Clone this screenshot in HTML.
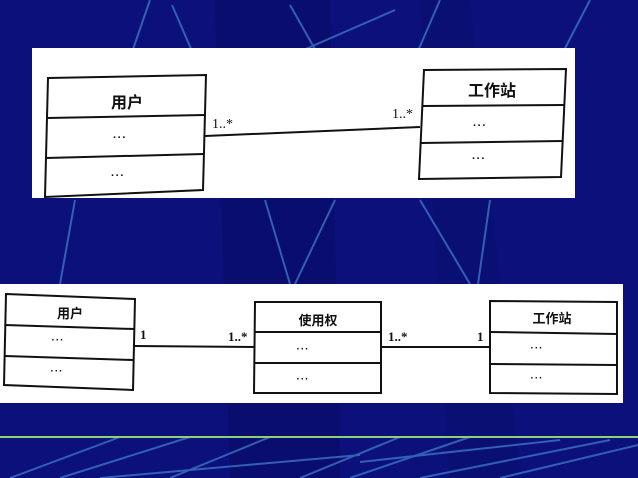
<!DOCTYPE html>
<html><head><meta charset="utf-8"><style>
html,body{margin:0;padding:0;width:638px;height:478px;overflow:hidden;background:#0b107a}
svg{display:block}
text{font-family:"Liberation Serif","Noto Serif CJK SC",serif;fill:#111}
.cj{font-family:"Liberation Sans","Noto Sans CJK SC",sans-serif;font-weight:bold}
.d{font-family:"Liberation Sans",sans-serif;font-weight:bold;letter-spacing:1px}
</style></head><body>
<svg width="638" height="478" viewBox="0 0 638 478" xmlns="http://www.w3.org/2000/svg">
<rect width="638" height="478" fill="#0b107a"/>
<polygon points="215,0 330,0 340,478 230,478" fill="#06095a" opacity="0.35"/>
<polygon points="420,0 470,0 520,478 450,478" fill="#0a0d66" opacity="0.3"/>
<g stroke="#3d74c4" stroke-width="2" opacity="0.8" fill="none">
<line x1="150" y1="0" x2="130" y2="58"/>
<line x1="172" y1="5" x2="195" y2="58"/>
<line x1="290" y1="5" x2="320" y2="58"/>
<line x1="285" y1="58" x2="395" y2="10"/>
<line x1="440" y1="0" x2="415" y2="58"/>
<line x1="590" y1="0" x2="560" y2="58"/>
<line x1="75" y1="200" x2="60" y2="284"/>
<line x1="265" y1="200" x2="290" y2="284"/>
<line x1="335" y1="200" x2="295" y2="284"/>
<line x1="420" y1="200" x2="470" y2="284"/>
<line x1="490" y1="200" x2="478" y2="284"/>
<line x1="10" y1="478" x2="120" y2="437"/>
<line x1="60" y1="478" x2="190" y2="437"/>
<line x1="170" y1="478" x2="270" y2="437"/>
<line x1="100" y1="478" x2="360" y2="455"/>
<line x1="300" y1="478" x2="400" y2="437"/>
<line x1="350" y1="478" x2="470" y2="437"/>
<line x1="360" y1="462" x2="560" y2="440"/>
<line x1="420" y1="478" x2="610" y2="440"/>
<line x1="500" y1="478" x2="638" y2="445"/>
</g>
<line x1="0" y1="437" x2="638" y2="437" stroke="#8fcf7a" stroke-width="2"/>
<rect x="32" y="48" width="543" height="150" fill="#fff"/>
<g stroke="#111" stroke-width="2" fill="none">
<polygon points="48,78 206,75 203,190 45,197"/>
<line x1="47" y1="118" x2="205" y2="115"/>
<line x1="46" y1="158" x2="204" y2="154"/>
<polygon points="424,70 566,69 561,177 419,179"/>
<line x1="423" y1="106" x2="565" y2="105"/>
<line x1="421" y1="143" x2="563" y2="141"/>
<line x1="205" y1="136" x2="420" y2="127"/>
</g>
<text x="127" y="108" class="cj" font-size="16" text-anchor="middle">用户</text>
<text x="120" y="141" class="d" font-size="11" text-anchor="middle">···</text>
<text x="118" y="179" class="d" font-size="11" text-anchor="middle">···</text>
<text x="492" y="96" class="cj" font-size="16" text-anchor="middle">工作站</text>
<text x="480" y="129" class="d" font-size="11" text-anchor="middle">···</text>
<text x="479" y="162" class="d" font-size="11" text-anchor="middle">···</text>
<text x="212" y="128" font-size="14">1..*</text>
<text x="392" y="118" font-size="14">1..*</text>
<rect x="0" y="284" width="623" height="119" fill="#fff"/>
<g stroke="#111" stroke-width="2" fill="none">
<polygon points="6,294 135,299 133,390 4,385"/>
<line x1="5" y1="325" x2="134" y2="329"/>
<line x1="5" y1="356" x2="133" y2="360"/>
<polygon points="255,302 381,302 381,393 254,393"/>
<line x1="255" y1="332" x2="381" y2="332"/>
<line x1="255" y1="363" x2="381" y2="363"/>
<polygon points="490,301 617,302 617,394 490,393"/>
<line x1="490" y1="332" x2="617" y2="334"/>
<line x1="490" y1="364" x2="617" y2="365"/>
<line x1="134" y1="346" x2="255" y2="347"/>
<line x1="381" y1="347" x2="490" y2="347"/>
</g>
<text x="70" y="318" class="cj" font-size="13" text-anchor="middle">用户</text>
<text x="58" y="343" class="d" font-size="10" text-anchor="middle">···</text>
<text x="57" y="374" class="d" font-size="10" text-anchor="middle">···</text>
<text x="318" y="325" class="cj" font-size="13" text-anchor="middle">使用权</text>
<text x="303" y="352" class="d" font-size="10" text-anchor="middle">···</text>
<text x="303" y="382" class="d" font-size="10" text-anchor="middle">···</text>
<text x="552" y="323" class="cj" font-size="13" text-anchor="middle">工作站</text>
<text x="537" y="351" class="d" font-size="10" text-anchor="middle">···</text>
<text x="537" y="381" class="d" font-size="10" text-anchor="middle">···</text>
<text x="140" y="339" font-size="13" font-weight="bold">1</text>
<text x="228" y="341" font-size="13" font-weight="bold">1..*</text>
<text x="388" y="341" font-size="13" font-weight="bold">1..*</text>
<text x="477" y="341" font-size="13" font-weight="bold">1</text>
</svg>
</body></html>
